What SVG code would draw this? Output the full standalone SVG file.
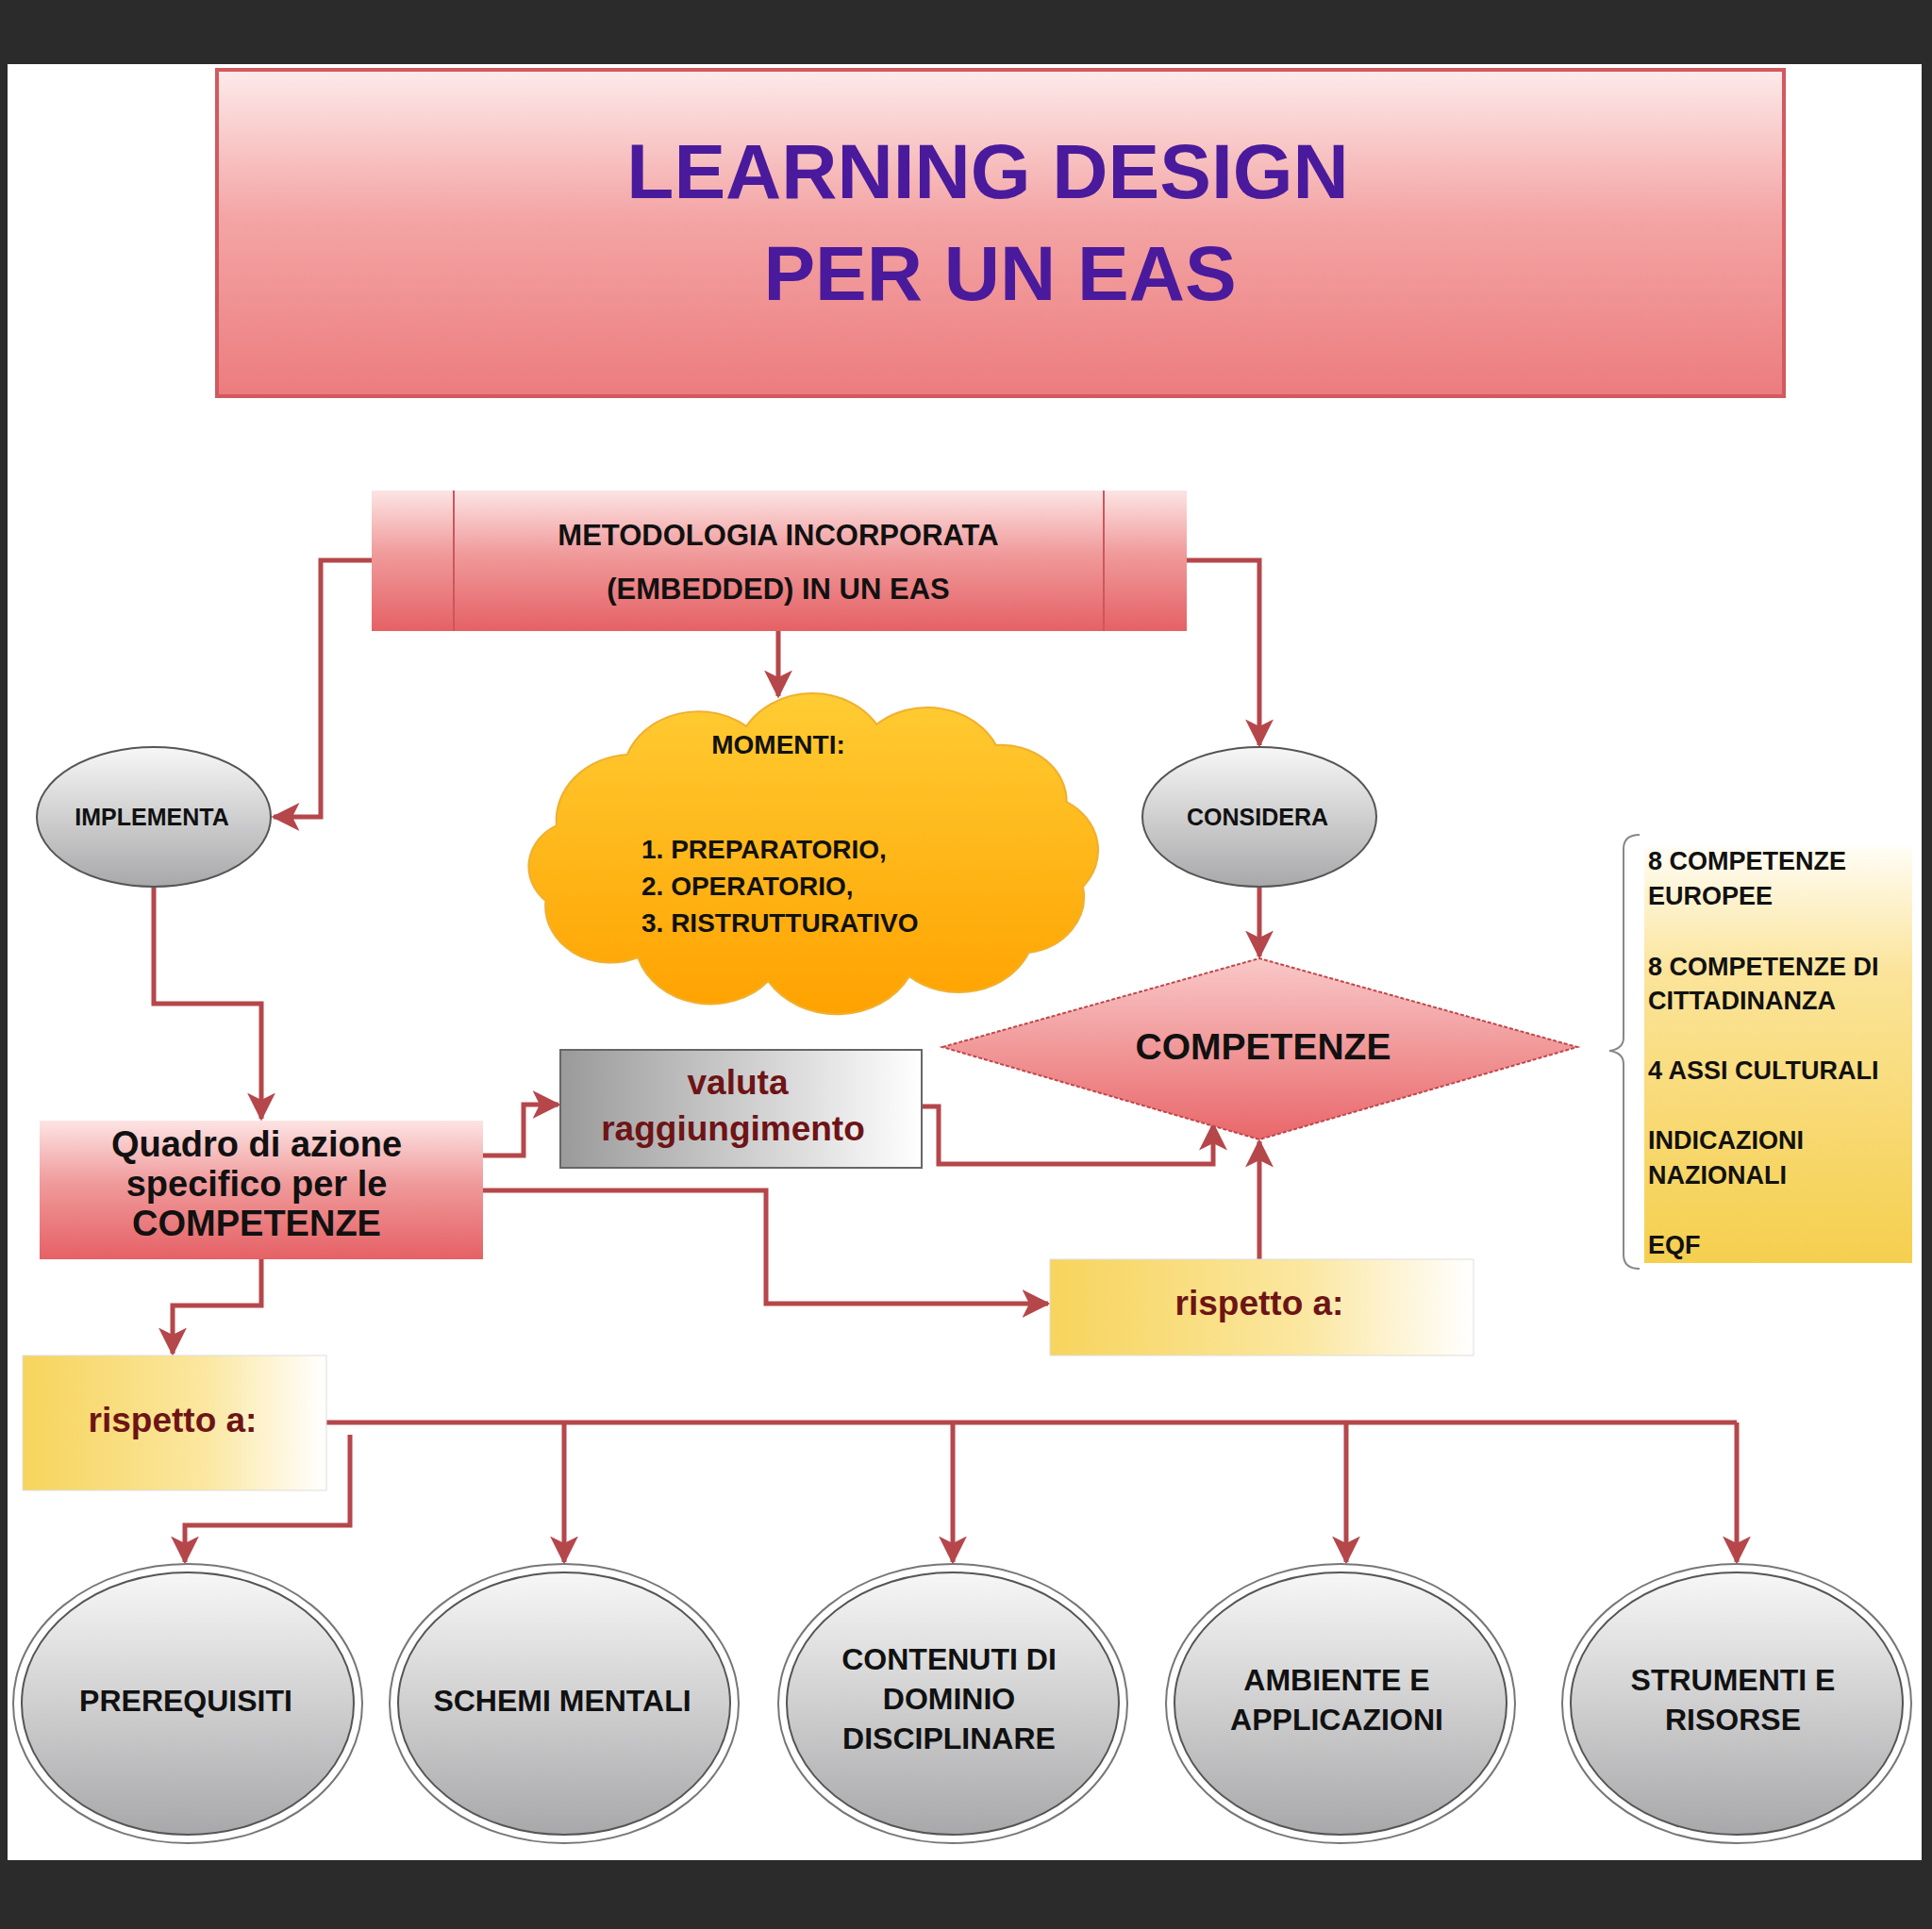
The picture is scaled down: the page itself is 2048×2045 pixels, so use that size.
<svg xmlns="http://www.w3.org/2000/svg" width="2048" height="2045" viewBox="0 0 2048 2045">
<defs>
<linearGradient id="gTitle" x1="0" y1="0" x2="0" y2="1"><stop offset="0" stop-color="#fdeaea"/><stop offset="0.45" stop-color="#f4a5a5"/><stop offset="1" stop-color="#ec7c7e"/></linearGradient>
<linearGradient id="gRed" x1="0" y1="0" x2="0" y2="1"><stop offset="0" stop-color="#fde4e4"/><stop offset="0.45" stop-color="#f09a9b"/><stop offset="1" stop-color="#e56165"/></linearGradient>
<linearGradient id="gDia" x1="0" y1="0" x2="0" y2="1"><stop offset="0" stop-color="#f9c8c8"/><stop offset="1" stop-color="#e9676a"/></linearGradient>
<linearGradient id="gGray" x1="0" y1="0" x2="0" y2="1"><stop offset="0" stop-color="#f7f7f7"/><stop offset="1" stop-color="#a8a8aa"/></linearGradient>
<linearGradient id="gVal" x1="0" y1="0" x2="1" y2="0"><stop offset="0" stop-color="#9a9a9a"/><stop offset="1" stop-color="#ffffff"/></linearGradient>
<linearGradient id="gYel" x1="0" y1="0" x2="1" y2="0"><stop offset="0" stop-color="#f7d45c"/><stop offset="0.6" stop-color="#fbe7a0"/><stop offset="1" stop-color="#ffffff"/></linearGradient>
<linearGradient id="gYelV" x1="0" y1="0" x2="0" y2="1"><stop offset="0" stop-color="#fffdf5"/><stop offset="0.3" stop-color="#fbe49a"/><stop offset="1" stop-color="#f5cf4e"/></linearGradient>
<linearGradient id="gCloud" x1="0" y1="0" x2="0" y2="1"><stop offset="0" stop-color="#ffcc33"/><stop offset="1" stop-color="#ffa200"/></linearGradient>
<marker id="ah" viewBox="0 0 12 12" refX="11" refY="6" markerWidth="6" markerHeight="6" markerUnits="strokeWidth" orient="auto"><path d="M0,0 L12,6 L0,12 L3,6 Z" fill="#b5474b"/></marker>
<style>
.t{font-family:"Liberation Sans",Arial,sans-serif;font-weight:bold;fill:#111;text-anchor:middle}
.c{fill:none;stroke:#b5474b;stroke-width:5;marker-end:url(#ah)}
.l{fill:none;stroke:#b5474b;stroke-width:5}
.ell{fill:url(#gGray);stroke:#555;stroke-width:2}
</style>
</defs>
<rect width="2048" height="2045" fill="#2b2b2b"/>
<rect x="8" y="68" width="2029" height="1904" fill="#fff"/>

<g id="title">
<rect x="230" y="74" width="1661" height="346" fill="url(#gTitle)" stroke="#d05a5e" stroke-width="4"/>
<text class="t" x="1047" y="210" font-size="82" style="fill:#4a1a9c">LEARNING DESIGN</text>
<text class="t" x="1060" y="318" font-size="82" style="fill:#4a1a9c">PER UN EAS</text>
</g>

<g id="connectors">
<path class="c" d="M394,594 H340 V866 H290"/>
<path class="c" d="M1258,594 H1335 V790"/>
<path class="c" d="M825,669 V738"/>
<path class="c" d="M1335,940 V1014"/>
<path class="c" d="M163,940 V1064 H277 V1186"/>
<path class="c" d="M512,1225 H555 V1171 H592"/>
<path class="c" d="M977,1173 H995 V1234 H1286 V1192"/>
<path class="c" d="M512,1262 H812 V1382 H1111"/>
<path class="c" d="M1335,1335 V1210"/>
<path class="c" d="M277,1335 V1384 H183 V1435"/>
<path class="l" d="M346,1508 H1841"/>
<path class="c" d="M598,1508 V1656"/>
<path class="c" d="M1010,1508 V1656"/>
<path class="c" d="M1427,1508 V1656"/>
<path class="c" d="M1841,1508 V1656"/>
<path class="c" d="M371,1521 V1617 H196 V1656"/>
</g>

<g id="momenti">
<path transform="translate(858,0) scale(1.15,1) translate(-858,0)" d="M625,875 A70,70 0 0 1 690,800 A70,70 0 0 1 800,770 A70,70 0 0 1 920,768 A70,70 0 0 1 1030,790 A60,60 0 0 1 1095,850 A60,60 0 0 1 1110,940 A60,60 0 0 1 1060,1010 A70,70 0 0 1 950,1035 A75,75 0 0 1 820,1040 A70,70 0 0 1 700,1015 A60,60 0 0 1 615,955 A50,50 0 0 1 625,875 Z" fill="url(#gCloud)" stroke="#f0b030" stroke-width="2"/>
<text class="t" x="825" y="799" font-size="28">MOMENTI:</text>
<text class="t" x="680" y="910" font-size="28" style="text-anchor:start">1.  PREPARATORIO,</text>
<text class="t" x="680" y="949" font-size="28" style="text-anchor:start">2.  OPERATORIO,</text>
<text class="t" x="680" y="988" font-size="28" style="text-anchor:start">3.  RISTRUTTURATIVO</text>
</g>

<g id="metodologia">
<rect x="394" y="520" width="864" height="149" fill="url(#gRed)"/>
<line x1="481" y1="520" x2="481" y2="669" stroke="#c9585c" stroke-width="2"/>
<line x1="1170" y1="520" x2="1170" y2="669" stroke="#c9585c" stroke-width="2"/>
<text class="t" x="825" y="578" font-size="31">METODOLOGIA INCORPORATA</text>
<text class="t" x="825" y="635" font-size="31">(EMBEDDED) IN UN EAS</text>
</g>

<g id="implementa">
<ellipse class="ell" cx="163" cy="866" rx="124" ry="74"/>
<text class="t" x="161" y="875" font-size="25">IMPLEMENTA</text>
</g>
<g id="considera">
<ellipse class="ell" cx="1335" cy="866" rx="124" ry="74"/>
<text class="t" x="1333" y="875" font-size="25">CONSIDERA</text>
</g>

<g id="competenze">
<polygon points="999,1110 1335,1016 1672,1110 1335,1208" fill="url(#gDia)" stroke="#c0474b" stroke-width="2" stroke-dasharray="4,2"/>
<text class="t" x="1339" y="1123" font-size="39">COMPETENZE</text>
</g>

<g id="lista">
<rect x="1743" y="898" width="284" height="441" fill="url(#gYelV)"/>
<path d="M1738,885 Q1721,885 1721,900 V1100 Q1721,1112 1706,1114 Q1721,1116 1721,1128 V1330 Q1721,1345 1738,1345" fill="none" stroke="#888" stroke-width="2"/>
<g class="t" font-size="27" style="text-anchor:start">
<text x="1747" y="922">8 COMPETENZE</text>
<text x="1747" y="959">EUROPEE</text>
<text x="1747" y="1034">8 COMPETENZE DI</text>
<text x="1747" y="1070">CITTADINANZA</text>
<text x="1747" y="1144">4 ASSI CULTURALI</text>
<text x="1747" y="1218">INDICAZIONI</text>
<text x="1747" y="1255">NAZIONALI</text>
<text x="1747" y="1329">EQF</text>
</g>
</g>

<g id="valuta">
<rect x="594" y="1113" width="383" height="125" fill="url(#gVal)" stroke="#666" stroke-width="2"/>
<text class="t" x="782" y="1160" font-size="37" style="fill:#6e1416">valuta</text>
<text class="t" x="777" y="1209" font-size="37" style="fill:#6e1416">raggiungimento</text>
</g>

<g id="quadro">
<rect x="42" y="1188" width="470" height="147" fill="url(#gRed)"/>
<text class="t" x="272" y="1226" font-size="38">Quadro di azione</text>
<text class="t" x="272" y="1268" font-size="38">specifico per le</text>
<text class="t" x="272" y="1310" font-size="38">COMPETENZE</text>
</g>

<g id="rispetto-destra">
<rect x="1113" y="1335" width="449" height="102" fill="url(#gYel)" stroke="#ddd" stroke-width="1"/>
<text class="t" x="1335" y="1394" font-size="37" style="fill:#6e1416">rispetto a:</text>
</g>
<g id="rispetto-sinistra">
<rect x="24" y="1437" width="322" height="143" fill="url(#gYel)" stroke="#ddd" stroke-width="1"/>
<text class="t" x="183" y="1518" font-size="37" style="fill:#6e1416">rispetto a:</text>
</g>

<g id="prerequisiti">
<ellipse cx="199" cy="1806" rx="185" ry="148" fill="none" stroke="#777" stroke-width="2"/>
<ellipse class="ell" cx="199" cy="1806" rx="176" ry="139"/>
<text class="t" x="197" y="1814" font-size="32">PREREQUISITI</text>
</g>
<g id="schemi">
<ellipse cx="598" cy="1806" rx="185" ry="148" fill="none" stroke="#777" stroke-width="2"/>
<ellipse class="ell" cx="598" cy="1806" rx="176" ry="139"/>
<text class="t" x="596" y="1814" font-size="32">SCHEMI MENTALI</text>
</g>
<g id="contenuti">
<ellipse cx="1010" cy="1806" rx="185" ry="148" fill="none" stroke="#777" stroke-width="2"/>
<ellipse class="ell" cx="1010" cy="1806" rx="176" ry="139"/>
<text class="t" x="1006" y="1770" font-size="32">CONTENUTI DI</text>
<text class="t" x="1006" y="1812" font-size="32">DOMINIO</text>
<text class="t" x="1006" y="1854" font-size="32">DISCIPLINARE</text>
</g>
<g id="ambiente">
<ellipse cx="1421" cy="1806" rx="185" ry="148" fill="none" stroke="#777" stroke-width="2"/>
<ellipse class="ell" cx="1421" cy="1806" rx="176" ry="139"/>
<text class="t" x="1417" y="1792" font-size="32">AMBIENTE E</text>
<text class="t" x="1417" y="1834" font-size="32">APPLICAZIONI</text>
</g>
<g id="strumenti">
<ellipse cx="1841" cy="1806" rx="185" ry="148" fill="none" stroke="#777" stroke-width="2"/>
<ellipse class="ell" cx="1841" cy="1806" rx="176" ry="139"/>
<text class="t" x="1837" y="1792" font-size="32">STRUMENTI E</text>
<text class="t" x="1837" y="1834" font-size="32">RISORSE</text>
</g>
</svg>
